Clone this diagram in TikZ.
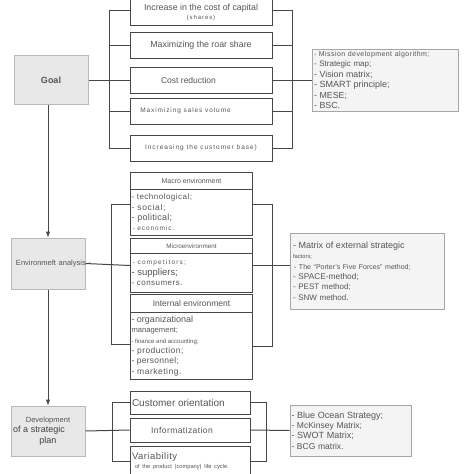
\documentclass[tikz,border=0pt]{standalone}
\usepackage{fontspec}
\setmainfont{Liberation Sans}
\usepackage{tikz}
\usetikzlibrary{shapes.multipart, arrows, calc}
\definecolor{ink}{HTML}{555555}
\definecolor{wire}{HTML}{474747}
\newcommand{\fsz}[1]{\fontsize{#1}{10.4}\selectfont}
\newcommand{\lsp}[1]{\addfontfeature{LetterSpace=#1}}
\tikzstyle{conn} = [draw=wire, line width=1pt]
\tikzstyle{arrow} = [conn,->,>=latex]
\tikzstyle{item} = [rectangle, draw=wire, line width=1pt, text=ink, inner sep=0pt, align=center, minimum width=142pt, font=\fsz{8}]
\tikzstyle{stage} = [rectangle, draw=gray!55, fill=gray!18, line width=1pt, text=ink, inner xsep=0pt, text width=74pt, align=center, font=\fsz{8}]
\tikzstyle{tools} = [rectangle, draw=gray!70, fill=gray!9, line width=1pt, text=ink, inner ysep=0pt, align=left, font=\fsz{8}]

\begin{document}
\begin{tikzpicture}[x=1pt, y=-1pt,
  stack/.style={rectangle split, rectangle split parts=#1, draw=wire, line width=1pt, inner sep=0pt, text=ink, anchor=north west, font=\fsz{8}}]
\useasboundingbox (0,0) rectangle (474,474);

% goal and its targets
\node[stage, minimum height=49pt] (goal) at (51,80) {\fsz{9}\bfseries Goal};
\node[item, minimum height=29pt] (g1) at (201,10.5) {\parbox[c][27pt][b]{142pt}{\centering
    {\fsz{8.8}Increase in the cost of capital}\\[-1.5pt]{\fsz{6}\lsp{15}(shares)}\par\vspace{3pt}}};
\node[item, minimum height=26pt] (g2) at (201,45) {\fsz{8.8}Maximizing the roar share};
\node[item, minimum height=26pt] (g3) at (201,80) {\fsz{8.5}Cost reduction\hspace*{25pt}};
\node[item, minimum height=26pt] (g4) at (201,111) {\fsz{6.5}\lsp{14}Maximizing sales volume\hspace*{31pt}};
\node[item, minimum height=26pt] (g5) at (201,148) {\fsz{6.5}\lsp{15}Increasing the customer base)};
\node[tools, text width=142pt, inner xsep=2pt, minimum height=62pt] (m1) at (385,80) {
    {\fsz{7}\lsp{6}- Mission development algorithm;}\\
    {\fsz{8}- Strategic map;}\\
    {\fsz{8.8}- Vision matrix;}\\
    {\fsz{9}- SMART principle;}\\
    {\fsz{8.8}- MESE;}\\
    {\fsz{8.8}- BSC.}};

\draw[conn] (goal.east) -- (g3.west);
\draw[conn] (g1.west) -- ++(-20,0) |- (g5.west);
\draw[conn] (g1.east) -- ++(20,0) |- (g5.east);
\foreach \g in {g2,g4} {
    \draw[conn] (\g.west) -- ++(-20,0);
    \draw[conn] (\g.east) -- ++(20,0);
}
\draw[conn] (g3.east) -- (m1.west);

% environment analysis
\node[stage, minimum height=51pt] (env) at (48,263.5) {\fsz{7.5}\mbox{\hspace*{5pt}Environmeft analysis -}};
\draw[arrow] (goal.south -| env.north) -- (env.north);

\node[stack=2] (macro) at (130,172) {
    \parbox[c][16pt]{122pt}{\centering\fsz{7}Macro environment}
    \nodepart{two}
    \parbox[c][45pt]{122pt}{\fsz{8}\leftskip=1pt
    {\fsz{8}\lsp{6}- technological;}\\
    {\fsz{8.5}\lsp{8}- social;}\\
    {\fsz{9}\lsp{3}- political;}\\
    {\fsz{6.5}\lsp{14}\hspace*{1pt}- economic.}}
};
\node[stack=2] (micro) at (130,238) {
    \parbox[c][14pt]{122pt}{\centering\fsz{6.3}Microenvironment}
    \nodepart{two}
    \parbox[c][38pt]{122pt}{\fsz{8}\leftskip=1pt
    {\fsz{6.5}\lsp{18}\hspace*{1pt}- competitors;}\\
    {\fsz{9.5}- suppliers;}\\
    {\fsz{8}\lsp{6}- consumers.}}
};
\node[stack=2] (internal) at (130,294) {
    \parbox[c][17pt]{122pt}{\centering\fsz{8.5}Internal environment}
    \nodepart{two}
    \parbox[c][66pt]{122pt}{\fsz{8}\leftskip=1pt
    {\fsz{9}- organizational}\\
    {\fsz{7.6}management;}\\
    {\fsz{6}- finance and accounting;}\\
    {\fsz{8.5}\lsp{5}- production;}\\
    {\fsz{8.5}\lsp{3}- personnel;}\\
    {\fsz{8.5}\lsp{6}- marketing.}}
};
\coordinate (internal-w) at ($(internal.north west)!0.59!(internal.south west)$);
\coordinate (internal-e) at ($(internal.north east)!0.61!(internal.south east)$);

\node[tools, text width=148pt, inner xsep=3pt, minimum height=76pt] (m2) at (367,271) {
    {\fsz{9}- Matrix of external strategic}\\
    {\fsz{5.8}factors;}\\
    {\fsz{7}\hspace*{1pt}- The “Porter's Five Forces” method;}\\
    {\fsz{8.3}- SPACE-method;}\\
    {\fsz{8}- PEST method;}\\
    {\fsz{8}- SNW method.}};

\draw[conn] (env.east) -- (micro.west);
\draw[conn] (macro.west) -- ++(-19,0) |- (internal-w);
\draw[conn] (macro.east) -- ++(19,0) |- (internal-e);
\draw[conn] (micro.east) -- (micro.east -| m2.west);

% development of the plan
\node[stage, minimum height=50pt] (dev) at (48,431) {{\fsz{7.5}Development}\\
    {\fsz{9}\color{black!75}of a strategic\hspace*{18pt}}\\
    {\fsz{9}\color{black!75}plan}};
\draw[arrow] (env.south) -- (dev.north);

\node[item, minimum width=120pt, text width=116pt, inner xsep=2pt, align=left, minimum height=23pt] (d1) at (190,402.5) {\fsz{10}Customer orientation};
\node[item, minimum width=120pt, minimum height=24pt] (d2) at (190,430) {\fsz{8.5}\lsp{5}Informatization\hspace*{16pt}};
\node[item, minimum width=120pt, text width=116pt, inner xsep=2pt, align=left, minimum height=30pt] (d3) at (190,461) {{\fsz{9.5}\lsp{5}Variability}\\[-1pt]
    {\fsz{5.7}\hspace*{3pt}of the product (company) life cycle.}};
\node[tools, text width=118pt, inner xsep=1.5pt, minimum height=51pt] (m3) at (350.5,430.5) {
    {\fsz{9}- Blue Ocean Strategy;}\\
    {\fsz{8.5}- McKinsey Matrix;}\\
    {\fsz{9}- SWOT Matrix;}\\
    {\fsz{8.5}- BCG matrix.}};

\draw[conn] (dev.east) -- (d2.west);
\draw[conn] (d1.west) -- ++(-17,0) |- (d3.west);
\draw[conn] (d1.east) -- ++(16,0) |- (d3.east);
\draw[conn] (d2.east) -- (m3.west);
\end{tikzpicture}
\end{document}
